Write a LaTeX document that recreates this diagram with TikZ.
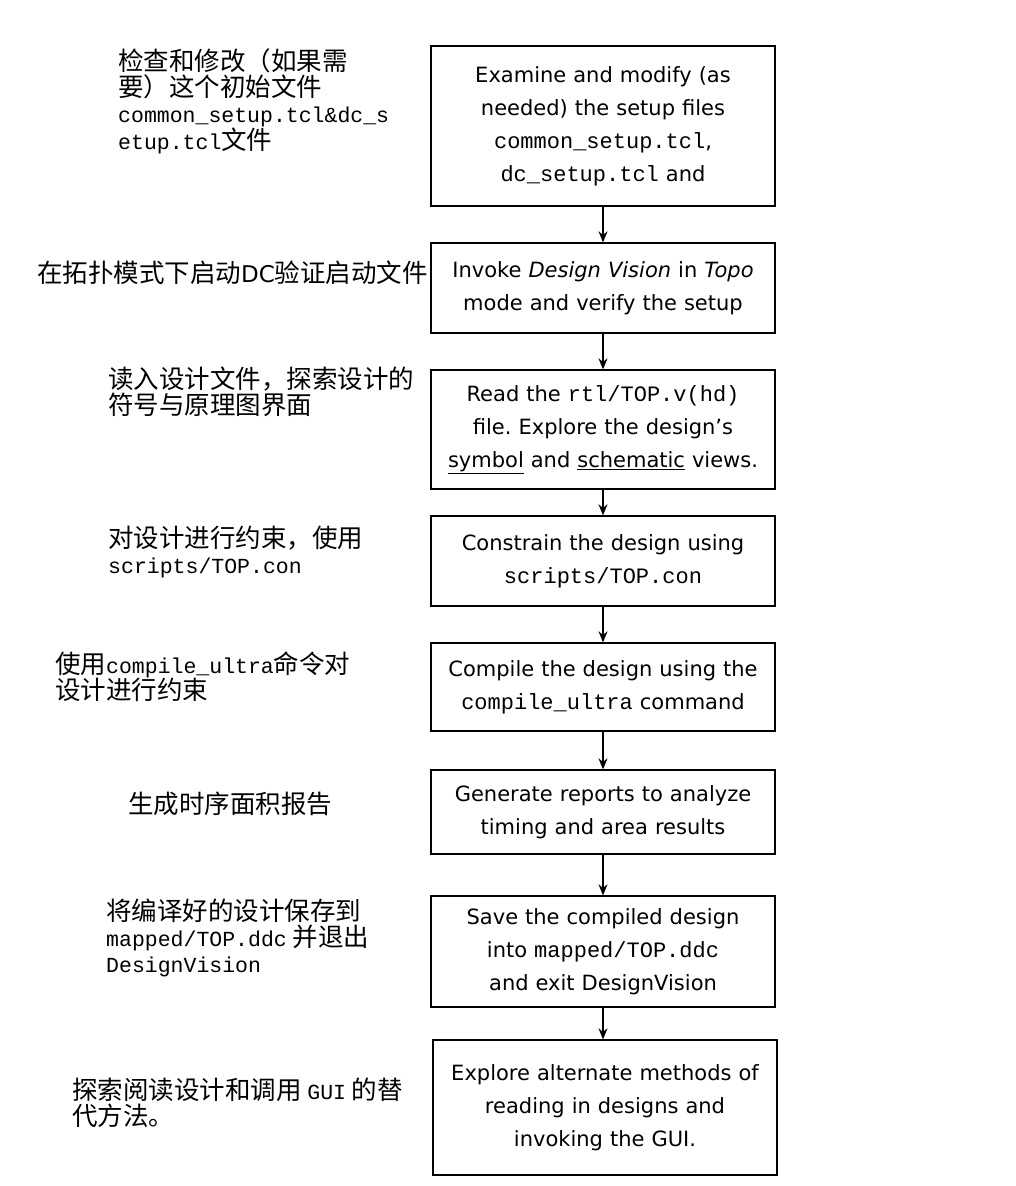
\documentclass[tikz,border=0pt]{standalone}
\usepackage{fontspec}
\setmainfont{DejaVu Sans}
\setmonofont{Liberation Mono}
\newfontfamily\cjk{Noto Sans CJK SC}
\newcommand{\bt}[1]{{\fontsize{22}{33}\selectfont\ttfamily #1}}
\newcommand{\nt}[1]{{\fontsize{21.5}{26}\selectfont\ttfamily #1}}
\usetikzlibrary{arrows.meta}
\begin{document}
\begin{tikzpicture}[x=1pt,y=-1pt,
  box/.style={draw,line width=1.3pt,minimum width=344pt,text width=340pt,align=center,inner sep=0pt,font=\frenchspacing\fontsize{21}{33}\selectfont},
  note/.style={anchor=north west,align=left,inner sep=0pt,font=\cjk\fontsize{25.5}{26}\selectfont},
  arr/.style={-{Stealth[length=11pt,width=9pt]},line width=1.5pt}]
\useasboundingbox (0,0) rectangle (1016,1186);
\node[box,minimum height=160pt] (b1) at (603,126) {Examine and modify (as\\needed) the setup files\\\bt{common\_setup.tcl},\\\bt{dc\_setup.tcl} and\vphantom{p}\\[6pt]};
\node[box,minimum height=90pt] (b2) at (603,288) {Invoke \textit{Design Vision} in \textit{Topo}\\mode and verify the setup};
\node[box,minimum height=119pt] (b3) at (603,429.5) {Read the \bt{rtl/TOP.v(hd)}\\file. Explore the design’s\\\underline{symbol} and \underline{schematic} views.};
\node[box,minimum height=90pt] (b4) at (603,561) {Constrain the design using\\\bt{scripts/TOP.con}};
\node[box,minimum height=88pt] (b5) at (603,687) {Compile the design using the\\\bt{compile\_ultra} command};
\node[box,minimum height=84pt] (b6) at (603,812) {Generate reports to analyze\\timing and area results};
\node[box,minimum height=111pt] (b7) at (603,951.5) {Save the compiled design\\into \bt{mapped/TOP.ddc}\\and exit DesignVision};
\node[box,minimum height=135pt] (b8) at (605,1107.5) {Explore alternate methods of\\reading in designs and\\invoking the GUI.};
\foreach \a/\b in {b1/b2,b2/b3,b3/b4,b4/b5,b5/b6,b6/b7,b7/b8}
  \draw[arr] (\a.south) -- (\a.south |- \b.north);
\node[note] (n1) at (118,48) {检查和修改（如果需\\要）这个初始文件\\\nt{common\_setup.tcl\&dc\_s}\\\nt{etup.tcl}文件};
\node[note] (n2) at (37,261) {在拓扑模式下启动{\rmfamily\fontsize{23}{26}\selectfont DC}验证启动文件};
\node[note] (n3) at (108,367) {读入设计文件，探索设计的\\符号与原理图界面};
\node[note] (n4) at (108,526) {对设计进行约束，使用\\\nt{scripts/TOP.con}};
\node[note] (n5) at (55,652) {使用\nt{compile\_ultra}命令对\\设计进行约束};
\node[note] (n6) at (128,792) {生成时序面积报告};
\node[note] (n7) at (106,899) {将编译好的设计保存到\\\nt{mapped/TOP.ddc} 并退出\\\nt{DesignVision}};
\node[note] (n8) at (72,1078) {探索阅读设计和调用 \nt{GUI} 的替\\代方法。};
\end{tikzpicture}
\end{document}
